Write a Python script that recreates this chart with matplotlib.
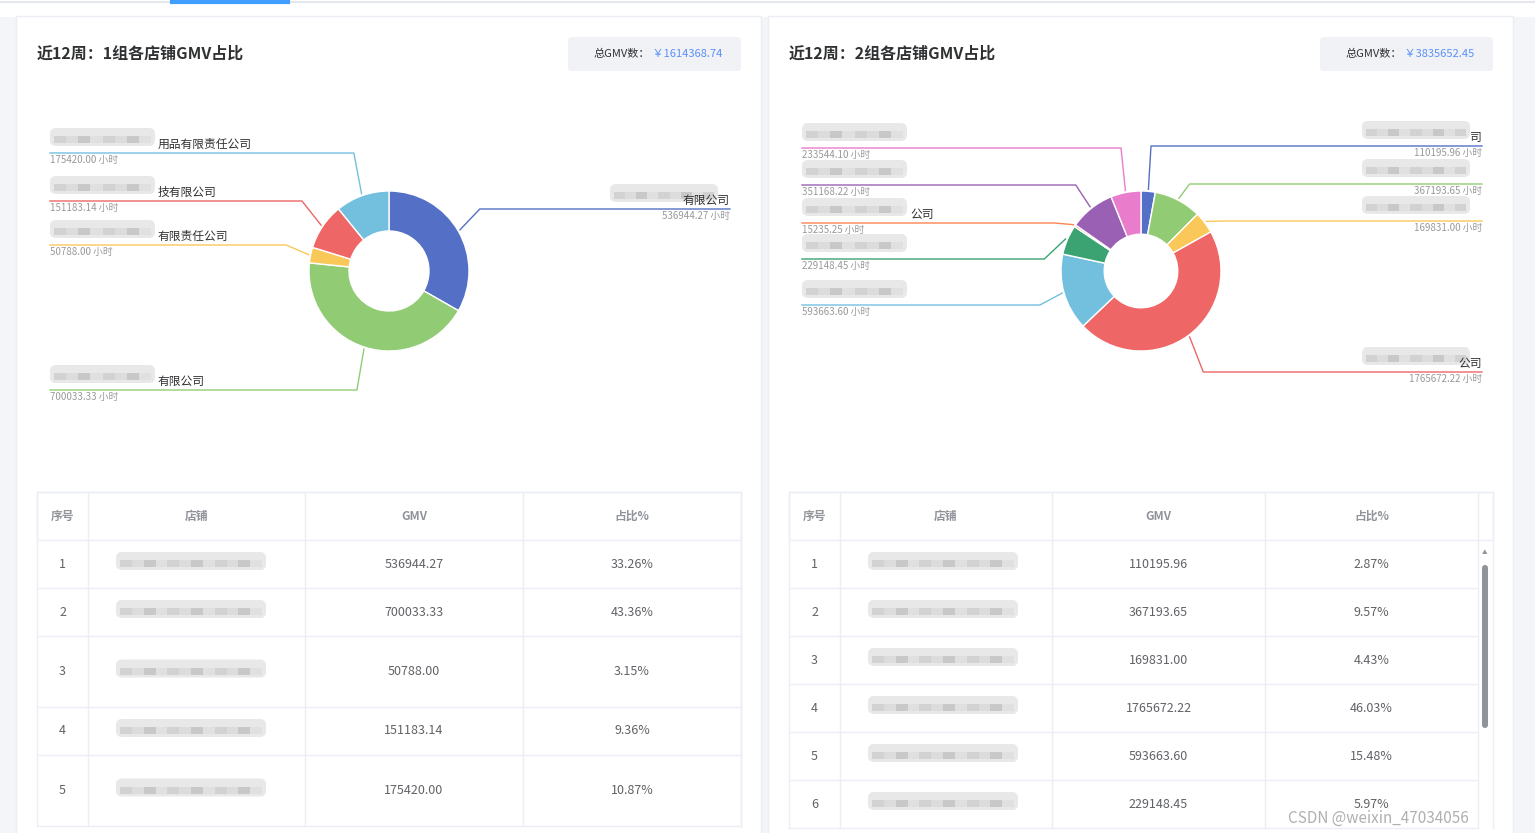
import numpy as np
import matplotlib
matplotlib.use("Agg")
import matplotlib.pyplot as plt
from matplotlib.patches import Rectangle, FancyBboxPatch

plt.rcParams['font.family'] = ['Noto Sans CJK SC', 'DejaVu Sans']

# ---- data ----
colors = ['#5470c6', '#91cc75', '#fac858', '#ee6666', '#73c0de',
          '#3ba272', '#fc8452', '#9a60b4', '#ea7ccc']

g1_values = [536944.27, 700033.33, 50788.00, 151183.14, 175420.00]
g1_suffix = ['有限公司', '有限公司', '有限责任公司', '技有限公司', '用品有限责任公司']
g1_label_y = [209, 390, 245, 201, 153]
g1_side = ['R', 'L', 'L', 'L', 'L']

g2_values = [110195.96, 367193.65, 169831.00, 1765672.22, 593663.60,
             229148.45, 15235.25, 351168.22, 233544.10]
g2_suffix = ['司', '', '', '公司', '', '', '公司', '', '']
g2_label_y = [146, 184, 221, 372, 305, 259, 223, 185, 148]
g2_side = ['R', 'R', 'R', 'R', 'L', 'L', 'L', 'L', 'L']

t1_gmv = [536944.27, 700033.33, 50788.00, 151183.14, 175420.00]
t2_gmv = [110195.96, 367193.65, 169831.00, 1765672.22, 593663.60, 229148.45]
t2_pct = ['2.87%', '9.57%', '4.43%', '46.03%', '15.48%', '5.97%']

W, H = 1535, 833
fig = plt.figure(figsize=(W / 100, H / 100), dpi=100)
fig.patch.set_facecolor('#f4f5f8')
bg = fig.add_axes([0, 0, 1, 1])
bg.set_xlim(0, W)
bg.set_ylim(H, 0)
bg.axis('off')

# top tab strip
bg.add_patch(Rectangle((0, 0), W, 16, color='white', zorder=0))
bg.plot([0, W], [1.5, 1.5], color='#e4e7ed', lw=1.5)
bg.plot([172, 288], [1.5, 1.5], color='#409eff', lw=3)

BORDER = '#ebeef5'
TXT = '#606266'


def blur(x, y, w, h):
    bg.add_patch(FancyBboxPatch((x, y), w, h, boxstyle='round,pad=0,rounding_size=6',
                                fc='#e6e6e6', ec='none', alpha=0.9, zorder=3))
    n = max(int(w // 12), 1)
    for i in range(n):
        shade = ['#d2d2d2', '#dcdcdc', '#c8c8c8', '#e0e0e0'][i % 4]
        bg.add_patch(Rectangle((x + 4 + i * (w - 8) / n, y + h * 0.45), (w - 8) / n, h * 0.4,
                               fc=shade, ec='none', zorder=3))


def panel(x0, title, total, values, suffix, label_y, side, width, table_gmv, table_pct, scroll):
    bg.add_patch(Rectangle((x0, 16), 745, 830, fc='white', ec=BORDER, lw=1, zorder=1))
    bg.text(x0 + 21, 54, title, fontsize=11.5, fontweight='bold', color='#303133',
            va='center', zorder=4)
    bg.add_patch(FancyBboxPatch((x0 + 552, 37), 173, 34, boxstyle='round,pad=0,rounding_size=4',
                                fc='#f0f2f5', ec='none', zorder=2))
    bg.text(x0 + 634, 54, '总GMV数：', fontsize=8, color='#303133', ha='right', va='center', zorder=4)
    bg.text(x0 + 634, 54, ' ￥' + total, fontsize=8, color='#5b8ff9', ha='left', va='center', zorder=4)

    # donut
    cx, cy, r = x0 + 373, 271, 80
    pax = fig.add_axes([(cx - r) / W, 1 - (cy + r) / H, 2 * r / W, 2 * r / H])
    pax.pie(values, colors=colors[:len(values)], startangle=90, counterclock=False,
            wedgeprops=dict(width=width, edgecolor='white', linewidth=1))
    pax.set_xlim(-1, 1)
    pax.set_ylim(-1, 1)

    tot = sum(values)
    cum = 0
    for i, v in enumerate(values):
        ang = np.deg2rad(90 - 360 * (cum + v / 2) / tot)
        cum += v
        sx, sy = cx + (r + 2) * np.cos(ang), cy - (r + 2) * np.sin(ang)
        ex, ey = cx + (r + 25) * np.cos(ang), label_y[i]
        ex = min(ex, cx - 20) if side[i] == 'L' else max(ex, cx + 10)
        lx = x0 + 34 if side[i] == 'L' else x0 + 714
        bg.plot([sx, ex, lx], [sy, ey, ey], color=colors[i], lw=1, zorder=2)
        val = f'{v:.2f} 小时'
        if side[i] == 'L':
            blur(lx, ey - 25, 105, 18)
            bg.text(lx + 108, ey - 9, suffix[i], fontsize=8.5, color='#303133', va='center', zorder=4)
            bg.text(lx, ey + 7, val, fontsize=7, color='#999999', va='center', zorder=4)
        else:
            blur(lx - 120, ey - 25, 108, 18)
            bg.text(lx, ey - 9, suffix[i], fontsize=8.5, color='#303133', ha='right', va='center', zorder=4)
            bg.text(lx, ey + 7, val, fontsize=7, color='#999999', ha='right', va='center', zorder=4)

    # table
    tx = x0 + 21
    cols = [tx, tx + 51, tx + 263, tx + 476, tx + 689] if scroll else [tx, tx + 51, tx + 268, tx + 486, tx + 704]
    right = tx + 704
    bg.add_patch(Rectangle((tx, 492), 704, 48, fc='white', ec=BORDER, lw=1, zorder=2))
    heads = ['序号', '店铺', 'GMV', '占比%']
    for j, h in enumerate(heads):
        bg.text((cols[j] + cols[j + 1]) / 2, 516, h, fontsize=8.5, fontweight='bold',
                color='#909399', ha='center', va='center', zorder=4)
    heights = [48] * len(table_gmv) if scroll else [48, 48, 71, 48, 71]
    y = 540
    for i, g in enumerate(table_gmv):
        hgt = heights[i]
        bg.plot([tx, cols[-1]], [y + hgt, y + hgt], color=BORDER, lw=1, zorder=2)
        mid = y + hgt / 2
        bg.text((cols[0] + cols[1]) / 2, mid, str(i + 1), fontsize=9, color=TXT, ha='center', va='center', zorder=4)
        blur(cols[1] + 28, mid - 12, 150, 18)
        bg.text((cols[2] + cols[3]) / 2, mid, f'{g:.2f}', fontsize=9, color=TXT, ha='center', va='center', zorder=4)
        pct = table_pct[i] if table_pct else f'{100 * g / sum(table_gmv):.2f}%'
        bg.text((cols[3] + cols[4]) / 2, mid, pct, fontsize=9, color=TXT, ha='center', va='center', zorder=4)
        y += hgt
    for c in cols:
        bg.plot([c, c], [492, min(y, 833)], color=BORDER, lw=1, zorder=2)
    bg.plot([right, right], [492, min(y, 833)], color=BORDER, lw=1, zorder=2)
    bg.plot([tx, right], [492, 492], color=BORDER, lw=1, zorder=2)
    if scroll:
        bg.add_patch(FancyBboxPatch((right - 11, 565), 6, 163, boxstyle='round,pad=0,rounding_size=3',
                                    fc='#909399', ec='none', zorder=4))
        bg.text(right - 8, 553, '▲', fontsize=4, color='#909399', ha='center', va='center', zorder=4)


panel(16, '近12周：1组各店铺GMV占比', '1614368.74', g1_values, g1_suffix, g1_label_y, g1_side,
      0.5, t1_gmv, None, False)
panel(768, '近12周：2组各店铺GMV占比', '3835652.45', g2_values, g2_suffix, g2_label_y, g2_side,
      0.54, t2_gmv, t2_pct, True)

bg.text(1288, 818, 'CSDN @weixin_47034056', fontsize=11, color='#b0b0b0', va='center', zorder=5)

fig.savefig('out.png', dpi=100)
